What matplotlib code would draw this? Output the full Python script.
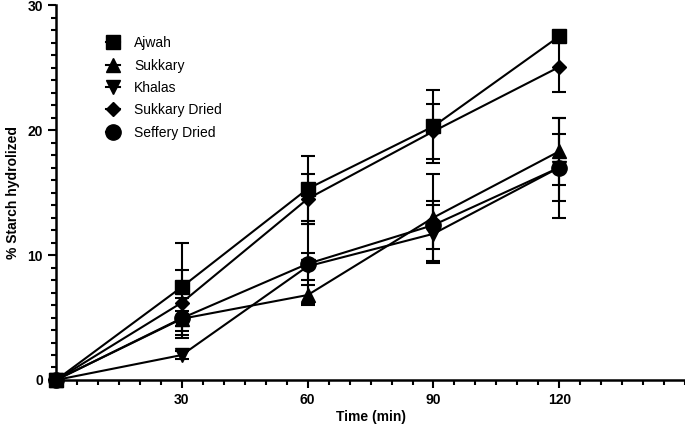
import matplotlib.pyplot as plt
from matplotlib.ticker import MultipleLocator, FixedLocator

plt.rcParams['font.family'] = ['Liberation Sans', 'DejaVu Sans']

time = [0, 30, 60, 90, 120]
names = ['Ajwah', 'Sukkary', 'Khalas', 'Sukkary Dried', 'Seffery Dried']
markers = ['s', '^', 'v', 'D', 'o']
msizes = [9.5, 10, 10, 7, 11]

ajwah = [0, 7.45, 15.3, 20.3, 27.5]
ajwah_sd = [0, 3.5, 2.6, 2.9, 0.3]
sukkary = [0, 4.9, 6.8, 13.0, 18.3]
sukkary_sd = [0, 0.6, 0.8, 3.5, 2.7]
khalas = [0, 2.0, 9.1, 11.7, 17.0]
khalas_sd = [0, 0.3, 1.1, 2.3, 4.0]
sukkary_dried = [0, 6.2, 14.5, 19.9, 25.05]
sukkary_dried_sd = [0, 2.6, 2.0, 2.2, 2.0]
seffery_dried = [0, 4.95, 9.3, 12.4, 17.0]
seffery_dried_sd = [0, 1.6, 3.2, 1.9, 2.7]

series = [ajwah, sukkary, khalas, sukkary_dried, seffery_dried]
errors = [ajwah_sd, sukkary_sd, khalas_sd, sukkary_dried_sd, seffery_dried_sd]

fig = plt.figure(figsize=(6.85, 4.26), dpi=100)
ax = fig.add_axes([0.082, 0.108, 0.918, 0.88])

handles = []
for name, m, ms, y, e in zip(names, markers, msizes, series, errors):
    c = ax.errorbar(time, y, yerr=e, color='black', marker=m, markersize=ms,
                    linewidth=1.5, elinewidth=1.5, capsize=5, capthick=1.5,
                    clip_on=False)
    handles.append(c.lines[0])

ax.set_xlim(0, 150)
ax.set_ylim(0, 30)
ax.xaxis.set_major_locator(FixedLocator([30, 60, 90, 120]))
ax.xaxis.set_minor_locator(MultipleLocator(5))
ax.yaxis.set_major_locator(MultipleLocator(10))
ax.yaxis.set_minor_locator(MultipleLocator(1))

for s in ['top', 'right']:
    ax.spines[s].set_visible(False)
for s in ['left', 'bottom']:
    ax.spines[s].set_linewidth(1.8)

ax.tick_params(which='major', length=6, width=1.5, labelsize=10)
ax.tick_params(which='minor', length=3.5, width=1.5)
for lab in ax.get_xticklabels() + ax.get_yticklabels():
    lab.set_fontweight('bold')

ax.set_xlabel('Time (min)', fontsize=10, fontweight='bold')
ax.set_ylabel('% Starch hydrolized', fontsize=10, fontweight='bold')
ax.xaxis.set_label_coords(0.5, -0.08)
ax.yaxis.set_label_coords(-0.058, 0.5)

ax.legend(handles, names, loc='upper left', bbox_to_anchor=(0.06, 0.95),
          frameon=False, fontsize=10, handlelength=1.0, handletextpad=1.0,
          labelspacing=0.6)

fig.savefig('out.png', dpi=100)
